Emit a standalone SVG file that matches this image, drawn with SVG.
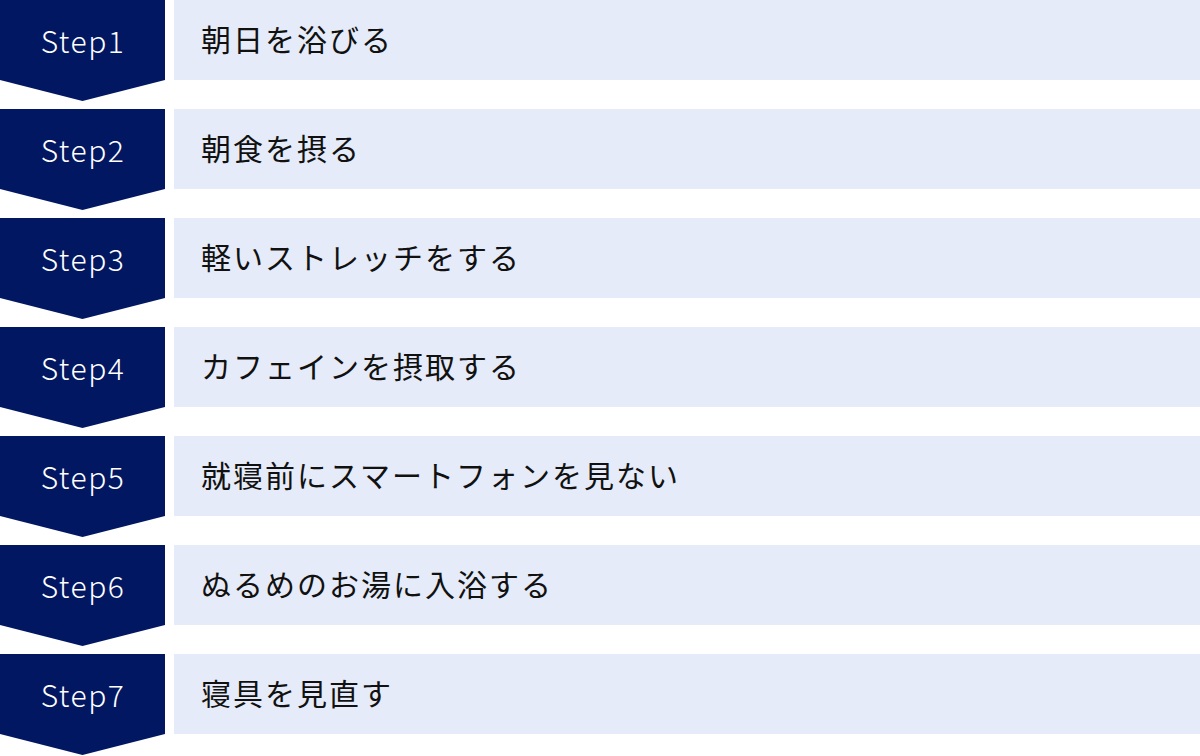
<svg xmlns="http://www.w3.org/2000/svg" width="1200" height="756" viewBox="0 0 1200 756">
<style>
.step{fill:#021761}
.panel{fill:#E5EBF8}
.st{font-family:"Noto Sans CJK JP","Noto Sans",sans-serif;font-size:30px;font-weight:300;fill:#ffffff;text-anchor:middle;letter-spacing:1.5px}
.lb{font-family:"Noto Sans CJK JP","Noto Sans",sans-serif;font-size:30px;font-weight:400;fill:#111111;letter-spacing:2px}
</style>
<defs>
<path id="chev" d="M0 0H165V80L82.5 101L0 80Z"/>
</defs>
<g id="connectors"></g>
<g id="row1" transform="translate(0,0)"><use href="#chev" class="step"/><rect class="panel" x="174" y="0" width="1026" height="80"/><text class="st" x="83" y="53">Step1</text><text class="lb" x="201" y="51">朝日を浴びる</text></g>
<g id="row2" transform="translate(0,109)"><use href="#chev" class="step"/><rect class="panel" x="174" y="0" width="1026" height="80"/><text class="st" x="83" y="53">Step2</text><text class="lb" x="201" y="51">朝食を摂る</text></g>
<g id="row3" transform="translate(0,218)"><use href="#chev" class="step"/><rect class="panel" x="174" y="0" width="1026" height="80"/><text class="st" x="83" y="53">Step3</text><text class="lb" x="201" y="51">軽いストレッチをする</text></g>
<g id="row4" transform="translate(0,327)"><use href="#chev" class="step"/><rect class="panel" x="174" y="0" width="1026" height="80"/><text class="st" x="83" y="53">Step4</text><text class="lb" x="201" y="51">カフェインを摂取する</text></g>
<g id="row5" transform="translate(0,436)"><use href="#chev" class="step"/><rect class="panel" x="174" y="0" width="1026" height="80"/><text class="st" x="83" y="53">Step5</text><text class="lb" x="201" y="51">就寝前にスマートフォンを見ない</text></g>
<g id="row6" transform="translate(0,545)"><use href="#chev" class="step"/><rect class="panel" x="174" y="0" width="1026" height="80"/><text class="st" x="83" y="53">Step6</text><text class="lb" x="201" y="51">ぬるめのお湯に入浴する</text></g>
<g id="row7" transform="translate(0,654)"><use href="#chev" class="step"/><rect class="panel" x="174" y="0" width="1026" height="80"/><text class="st" x="83" y="53">Step7</text><text class="lb" x="201" y="51">寝具を見直す</text></g>
</svg>
